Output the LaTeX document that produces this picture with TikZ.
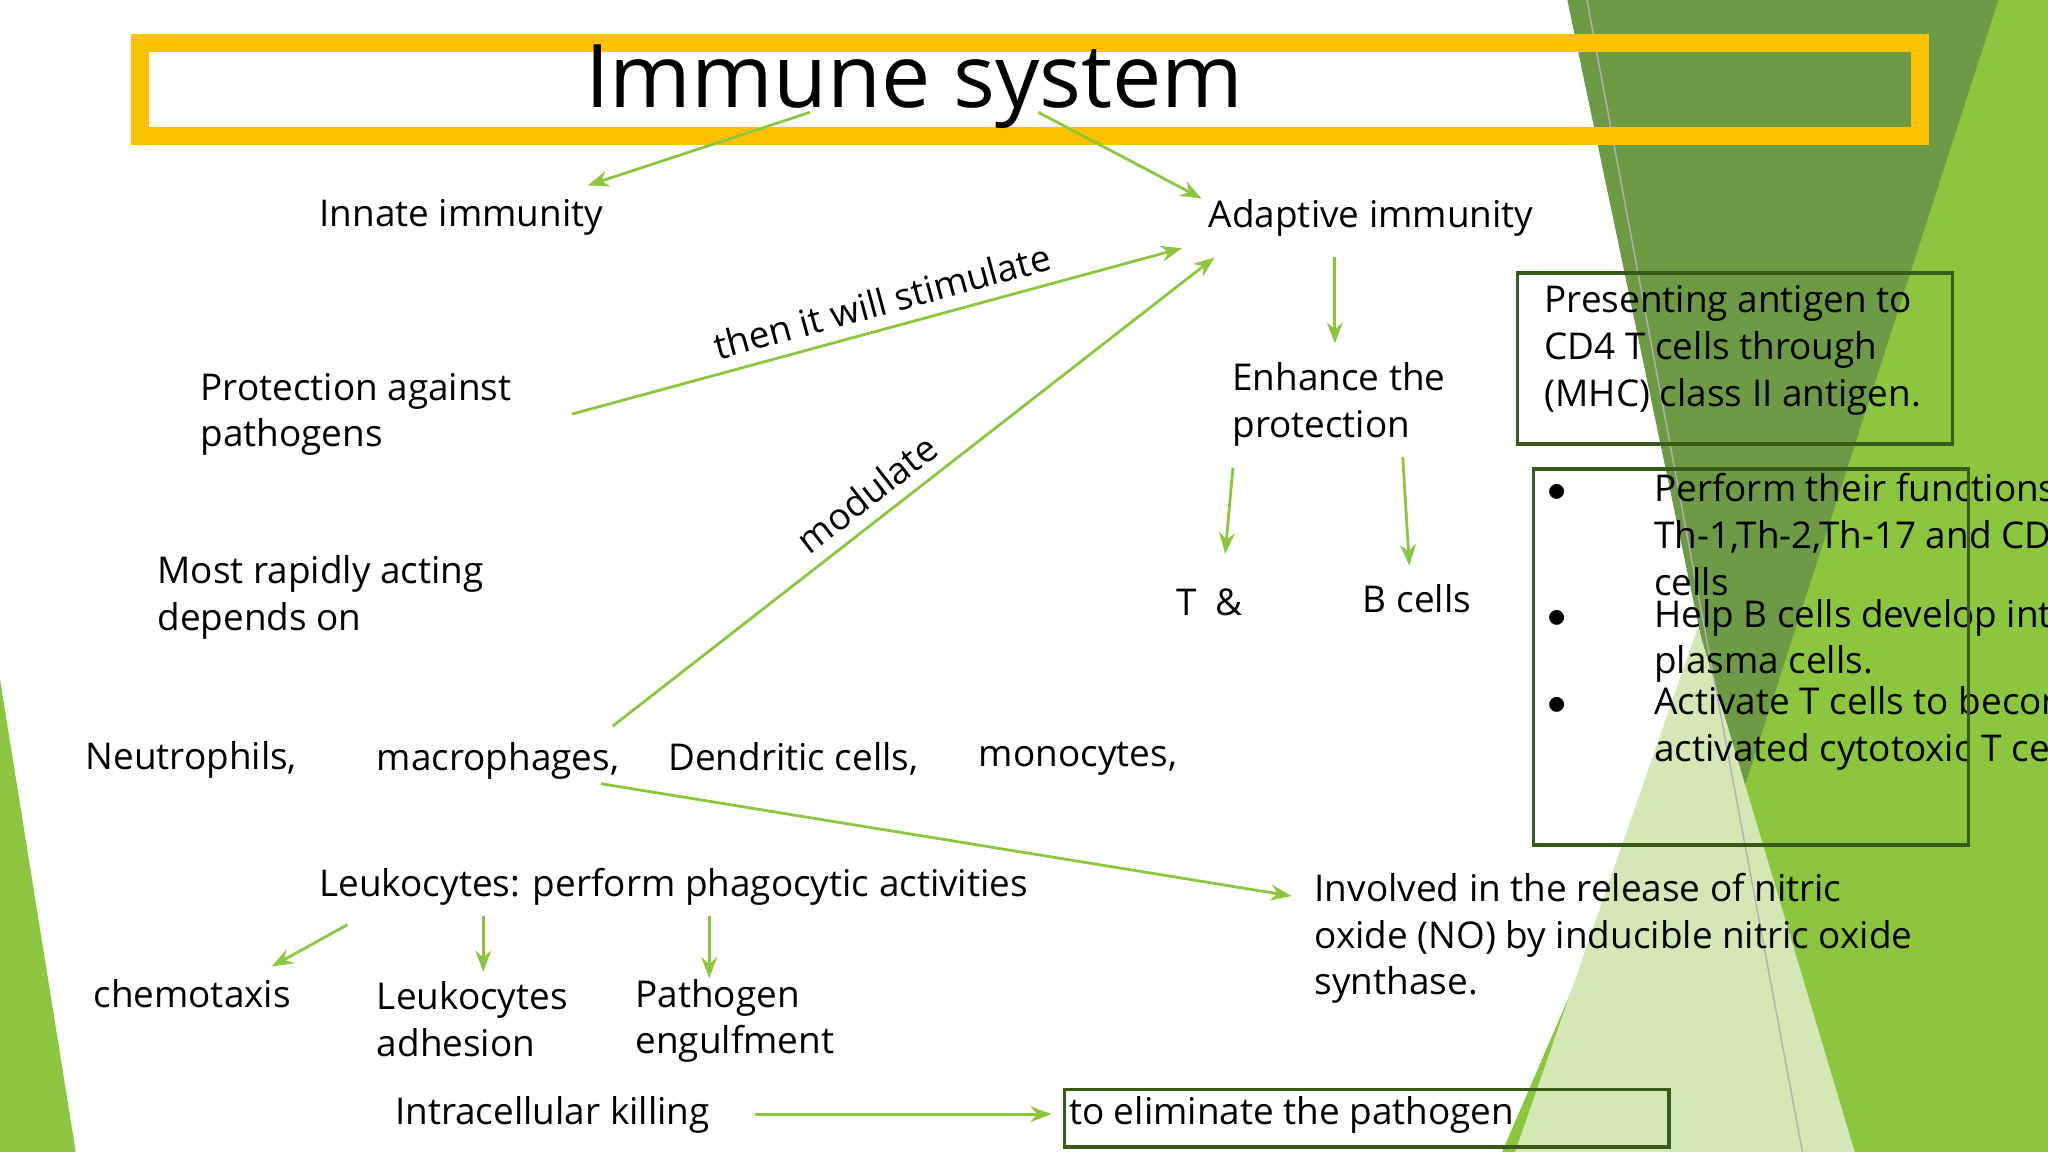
\documentclass[tikz,border=0pt]{standalone}
\usepackage{fontspec}
\setmainfont{Open Sans}
\usetikzlibrary{arrows.meta, positioning}
\definecolor{leaf}{HTML}{8CC63F}
\definecolor{darkleaf}{HTML}{6E9A45}
\definecolor{paleleaf}{HTML}{D3E8B5}
\definecolor{boxgreen}{HTML}{3A5A1A}
\definecolor{gold}{HTML}{FFC000}
\tikzset{
  txt/.style={anchor=north west, align=left, font=\fontsize{10.5}{13.3}\selectfont, inner sep=0pt},
  arr/.style={draw=leaf, thick, -{Stealth[length=6pt]}},
  gbox/.style={draw=boxgreen, line width=1pt}
}
\begin{document}
\begin{tikzpicture}[x=0.01306cm, y=-0.01306cm]
\useasboundingbox (0,0) rectangle (1568,882);
% background
\fill[leaf] (1530,0) -- (1568,0) -- (1568,882) -- (1150,882) -- cycle;
\fill[darkleaf] (1200,0) -- (1530,0) -- (1330,620) -- cycle;
\fill[paleleaf] (1300,480) -- (1420,882) -- (1160,882) -- cycle;
\fill[leaf] (0,520) -- (58,882) -- (0,882) -- cycle;
\draw[gray!60] (1215,0) -- (1380,882);
% title
\draw[gold, line width=5pt] (107,33) rectangle (1470,104);
\node[font=\fontsize{25}{27}\selectfont] (title) at (700,66) {Immune system};
% Nodes
\node[txt] (innate) at (244,152) {Innate immunity};
\node[txt] (adaptive) at (925,152) {Adaptive immunity};
\node[txt] (protect) at (153,285) {Protection against\\pathogens};
\node[txt] (rapid) at (120,425) {Most rapidly acting\\depends on};
\node[txt] (neutro) at (65,567) {Neutrophils,};
\node[txt] (macro) at (288,568) {macrophages,};
\node[txt] (dendr) at (511,568) {Dendritic cells,};
\node[txt] (mono) at (749,568) {monocytes,};
\node[txt] (leuko) at (244,664) {Leukocytes: perform phagocytic activities};
\node[txt] (chemo) at (71,749) {chemotaxis};
\node[txt] (adhes) at (288,751) {Leukocytes\\adhesion};
\node[txt] (engulf) at (486,749) {Pathogen\\engulfment};
\node[txt] (kill) at (302,839) {Intracellular killing};
\node[txt] (elim) at (818,839) {to eliminate the pathogen};
\draw[gbox] (815,834) rectangle (1278,878);
\node[txt] (enhance) at (943,277) {Enhance the\\protection};
\node[txt] (tcell) at (900,450) {T \ \&};
\node[txt] (bcell) at (1043,447) {B cells};
\node[txt] (present) at (1182,218) {Presenting antigen to\\CD4 T cells through\\(MHC) class II antigen.};
\draw[gbox] (1162,209) rectangle (1495,340);
\node[txt] (perform) at (1184,362) {%
\makebox[2.9em][l]{$\bullet$}\parbox[t]{13.5em}{\raggedright Perform their functions by Th-1,Th-2,Th-17 and CD4 T cells}\\
\makebox[2.9em][l]{$\bullet$}\parbox[t]{13.5em}{\raggedright Help B cells develop into plasma cells.}\\
\makebox[2.9em][l]{$\bullet$}\parbox[t]{13.5em}{\raggedright Activate T cells to become activated cytotoxic T cells.}};
\draw[gbox] (1174,359) rectangle (1507,647);
\node[txt] (nitric) at (1006,668) {Involved in the release of nitric\\oxide (NO) by inducible nitric oxide\\synthase.};
% Arrows
\coordinate (t1) at (620,86); \coordinate (t2) at (795,86);
\draw[arr] (t1) -- (450,142);
\draw[arr] (t2) -- (920,152);
\coordinate (p1) at (438,317); \coordinate (p2) at (905,190);
\draw[arr] (p1) -- node[sloped, above, font=\fontsize{10.5}{13}\selectfont, pos=0.52] {then it will stimulate} (p2);
\coordinate (m1) at (469,556); \coordinate (m2) at (930,197);
\draw[arr] (m1) -- node[sloped, above, font=\fontsize{10.5}{13}\selectfont, pos=0.45] {modulate} (m2);
\draw[arr] (1022,197) -- (1022,263);
\draw[arr] (944,358) -- (938,424);
\draw[arr] (1074,350) -- (1079,433);
\draw[arr] (460,600) -- (989,686);
\draw[arr] (266,708) -- (208,740);
\draw[arr] (370,701) -- (370,744);
\draw[arr] (543,701) -- (543,749);
\draw[arr] (578,853) -- (805,853);
\end{tikzpicture}
\end{document}
